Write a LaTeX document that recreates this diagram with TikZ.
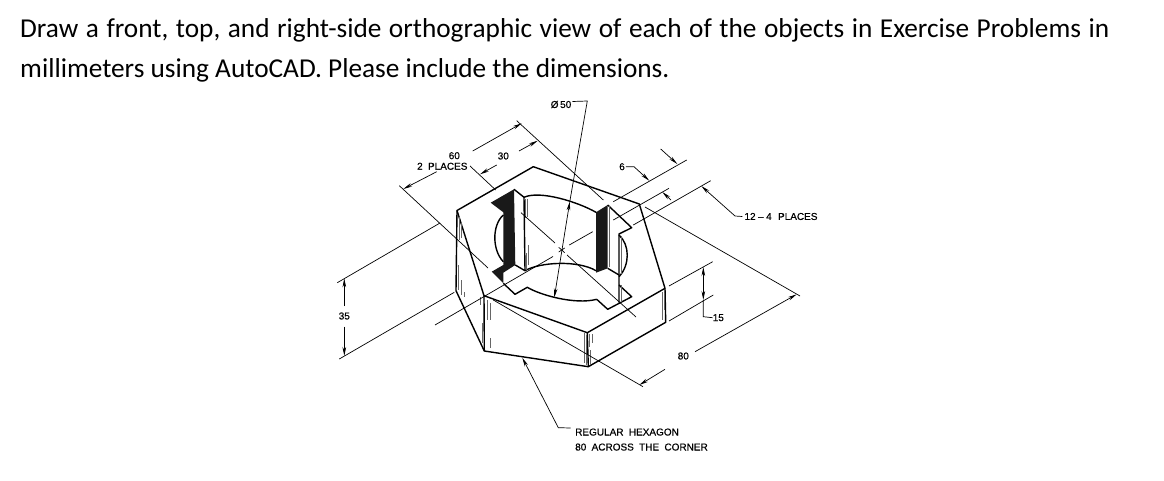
\documentclass[tikz,border=0pt]{standalone}
\usepackage{fontspec}
\setmainfont{Carlito}
\newfontfamily\dimfont[RawFeature={embolden=0.5}]{Liberation Sans}
\usetikzlibrary{arrows.meta}
\tikzset{
  edge/.style={line width=1.4pt, line join=round},
  thinline/.style={line width=0.7pt},
  dimline/.style={line width=0.7pt, {Stealth[length=9pt,width=3.6pt]}-{Stealth[length=9pt,width=3.6pt]}},
  tipline/.style={line width=0.7pt, -{Stealth[length=9pt,width=3.6pt]}},
  hatch/.style={line width=1pt, black!60},
  title/.style={anchor=base west, inner sep=0pt, font=\fontsize{27.3}{32}\selectfont},
  dimtext/.style={inner sep=0pt, font=\dimfont\fontsize{10}{12}\selectfont, execute at begin node={\spaceskip=5.3pt\relax}},
}
\begin{document}
\begin{tikzpicture}[x=1pt,y=-1pt]
  \useasboundingbox (0,0) rectangle (1164,481);

  \node[title] (line1) at (20,38) {\spaceskip=7.55pt\relax Draw a front, top, and right-side orthographic view of each of the objects in Exercise Problems in};
  \node[title] (line2) at (20,78) {millimeters using AutoCAD. Please include the dimensions.};

  \draw[edge] (457,210.5) -- (533.3,166.7) -- (639.3,204) -- (665,288.3) -- (587.3,332.7) -- (484,295.7) -- cycle;
  \draw[edge] (457,210.5) -- (456,290.7) -- (484.3,351) -- (588.3,366.7) -- (665.7,322.3) -- (665,288.3);
  \draw[edge] (484,295.7) -- (484.3,351);
  \draw[edge] (587.3,332.7) -- (588.3,366.7);

  \fill[black!90] (490.7,202.7) -- (514,189.3) -- (515.3,265) -- (503.3,272.7) -- (503.3,283.3) -- (491.7,271.7) -- (503.3,265) -- (503.3,212.3) -- cycle;
  \fill[black!90] (596,212.3) -- (607.7,205) -- (607.7,268.3) -- (596,272.7) -- cycle;

  \draw[edge] (514,189.3) -- (524,197.3) -- (525,270.7) -- (515.3,265);
  \draw[edge] (524,197.3) .. controls (540,190) and (578,202) .. (596,212.3);
  \draw[edge] (525,270.7) .. controls (540,262) and (578,260) .. (596,270.7);
  \draw[edge] (503.3,215) .. controls (492,225) and (492,250) .. (503.3,261.7);
  \draw[edge] (607.7,205) -- (631.7,227.7) -- (619,234) -- (619,302.7);
  \draw[edge] (607.7,268.3) -- (619,275);
  \draw[edge] (619,235) .. controls (630,245) and (630,265) .. (619,276.7);
  \draw[edge] (619,285) -- (631.7,296.7) -- (607.7,309.3) -- (596.7,299.3);
  \draw[edge] (596.7,299.3) .. controls (575,305) and (540,295) .. (527.3,287.3) -- (515,294.3) -- (503.3,283.3);

  \draw[hatch] (525.7,199) -- (525.7,218);
  \draw[hatch] (527.7,199) -- (527.7,217);
  \draw[hatch] (528.3,245) -- (528.3,265);
  \draw[hatch] (526.7,253) -- (526.7,270);
  \draw[hatch] (459.3,217) -- (459.3,240);
  \draw[hatch] (461,222) -- (461,238);
  \draw[hatch] (458.3,265) -- (458.3,290);
  \draw[hatch] (461,280) -- (461,295);
  \draw[hatch] (464,292) -- (464,297);
  \draw[hatch] (480,297) -- (480,305);
  \draw[hatch] (482,323) -- (482,343);
  \draw[hatch] (487.7,300) -- (487.7,320);
  \draw[hatch] (490,303) -- (490,320);
  \draw[hatch] (490,338) -- (490,348);
  \draw[hatch] (584,333) -- (584,363);
  \draw[hatch] (586,335) -- (586,365);
  \draw[hatch] (589,334) -- (589,347);
  \draw[hatch] (592.7,334) -- (592.7,343);
  \draw[hatch] (590,350) -- (590,365);
  \draw[hatch] (662.7,292) -- (662.7,320);
  \draw[hatch] (664,293) -- (664,310);
  \draw[hatch] (621,285) -- (621,302);
  \draw[hatch] (609,206) -- (609,267);
  \draw[hatch] (621,236) -- (621,274);

  \draw[thinline] (521,212.7) -- (555,243);
  \draw[thinline] (567,255) -- (636,317);
  \draw[thinline] (558.7,247.3) -- (564.7,252.7);
  \draw[thinline] (558.7,252) -- (564.7,248);
  \draw[thinline] (435,325) -- (553,256.5);
  \draw[thinline] (569.3,245) -- (592.7,231.7);

  \draw[thinline] (399.3,185.7) -- (488,268);
  \draw[thinline] (470,166) -- (495.7,190);
  \draw[thinline] (516.7,120.7) -- (603.3,200);
  \draw[thinline] (613.3,201.7) -- (686.7,160);
  \draw[thinline] (613.3,220) -- (669,188.3);
  \draw[thinline] (633.3,225) -- (710.7,180.7);
  \draw[thinline] (645,207) -- (800,296);
  \draw[thinline] (493.3,300) -- (643,386.7);
  \draw[thinline] (669,286) -- (712.7,261.7);
  \draw[thinline] (669,321) -- (713.3,295);
  \draw[thinline] (337.3,282.7) -- (440,223);
  \draw[thinline] (339.3,359) -- (454.3,292.3);

  \node[dimtext] (dia) at (561,104.5) {Ø\,50};
  \coordinate (diacorner) at (587.3,101);
  \coordinate (diatop) at (569.8,201.5);
  \coordinate (diabot) at (554.3,297.5);
  \draw[thinline] (dia.east) ++(1,-3) -- (diacorner) -- (diatop);
  \draw[dimline] (diatop) -- (diabot);

  \node[dimtext] (sixty) at (454.3,155.7) {60};
  \node[dimtext] (places) at (442.3,166.3) {2 PLACES};
  \coordinate (sixtyl) at (403.3,189);
  \coordinate (sixtyr) at (521.7,123.3);
  \draw[tipline] (436.7,171.7) -- (sixtyl);
  \draw[tipline] (472.7,151) -- (sixtyr);

  \node[dimtext] (thirty) at (503.3,156) {30};
  \draw[tipline] (496.7,165) -- (480,174.3);
  \draw[tipline] (519,151) -- (537.7,140.7);

  \node[dimtext] (six) at (622,166.7) {6};
  \draw[tipline] (six.east) ++(1,0) -- (634,166.7) -- (649.3,180.7);
  \draw[tipline] (660.7,149) -- (677.3,164);
  \draw[tipline] (671,200) -- (662.3,192);

  \node[dimtext, anchor=west] (twelve) at (744.3,216.5) {12\hspace{2.5pt}–\hspace{2.5pt}4 \hspace{1pt}PLACES};
  \draw[tipline] (twelve.west) ++(-2,0) -- (735,216) -- (701.3,186);

  \node[dimtext] (thirtyfive) at (344.3,316) {35};
  \draw[tipline] (344.3,306) -- (344.3,278.3);
  \draw[tipline] (344.3,326.7) -- (344.3,356);

  \node[dimtext] (fifteen) at (718.3,317.7) {15};
  \draw[dimline] (703.3,267) -- (703.3,300);
  \draw[thinline] (703.3,300) -- (703.3,316.7) -- (fifteen.west);

  \node[dimtext] (eighty) at (683.3,356) {80};
  \draw[tipline] (695,351.7) -- (796.7,294.3);
  \draw[tipline] (665,369.3) -- (639.3,385);

  \node[dimtext, anchor=base west] (hexa) at (575,435.5) {REGULAR HEXAGON};
  \node[dimtext, anchor=base west] (corner) at (575,450.5) {80 ACROSS THE CORNER};
  \draw[tipline] (570.7,428) -- (558.3,427.7) -- (522.3,357.7);

\end{tikzpicture}
\end{document}
